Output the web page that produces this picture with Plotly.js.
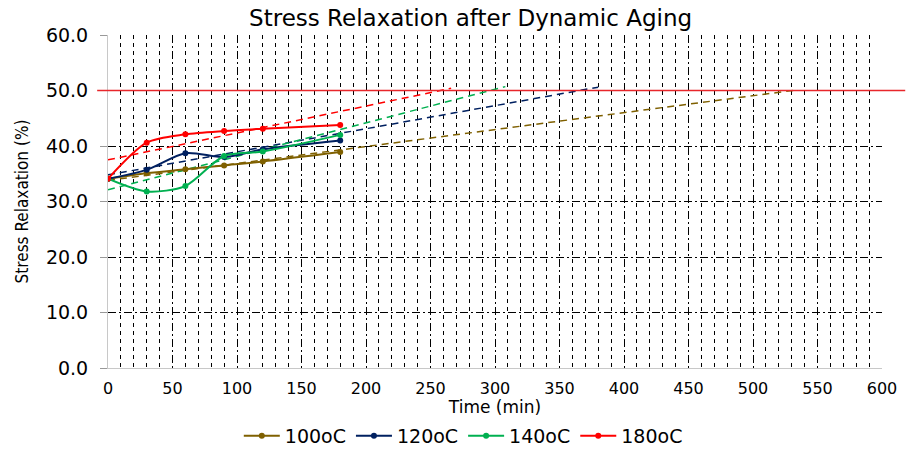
<!DOCTYPE html>
<html>
<head>
<meta charset="utf-8">
<script src="https://cdn.plot.ly/plotly-3.0.1.min.js"></script>
<style>
  html, body { margin: 0; padding: 0; background: #fff; }
  #chart { width: 912px; height: 455px; }
</style>
</head>
<body>
<div id="chart"></div>
<script>
// Aging time (min) at which stress relaxation was measured
const timeMin = [0, 30, 60, 90, 120, 180];

// Stress relaxation (%) per aging temperature
const seriesNames = ['100oC', '120oC', '140oC', '180oC'];
const relax100 = [34.1, 35.1, 35.8, 36.5, 37.2, 38.9];
const relax120 = [34.1, 35.7, 38.7, 38.0, 39.4, 41.0];
const relax140 = [34.1, 31.8, 32.8, 38.2, 39.0, 42.0];
const relax180 = [34.1, 40.6, 42.1, 42.7, 43.1, 43.8];
const seriesColors = ['#7F6000', '#002060', '#00B050', '#FF0000'];

// Linear trend lines: start/end time and value for each series
const trendX100 = [0, 534], trendY100 = [33.8, 50.1];
const trendX120 = [0, 380], trendY120 = [34.8, 50.6];
const trendX140 = [0, 308], trendY140 = [32.1, 50.7];
const trendX180 = [0, 266], trendY180 = [37.5, 50.4];

// Target relaxation level
const limitLevel = 50;

const dataSets = [relax100, relax120, relax140, relax180];
const trendXs = [trendX100, trendX120, trendX140, trendX180];
const trendYs = [trendY100, trendY120, trendY140, trendY180];

const traces = [];
// dashed trend lines first so measured curves sit on top
for (let i = 0; i < dataSets.length; i++) {
  traces.push({
    x: trendXs[i], y: trendYs[i], type: 'scatter', mode: 'lines',
    line: { color: seriesColors[i], width: 1.5, dash: '7px,5px' },
    showlegend: false, hoverinfo: 'skip'
  });
}
for (let i = 0; i < dataSets.length; i++) {
  traces.push({
    x: timeMin, y: dataSets[i], type: 'scatter', mode: 'lines+markers',
    name: seriesNames[i],
    line: { color: seriesColors[i], width: 2, shape: 'spline', smoothing: 0.8 },
    marker: { color: seriesColors[i], size: 6 }
  });
}

const fontMain = '"DejaVu Sans", Verdana, sans-serif';
const majorDash = '8px,3px,2px,3px';
const minorDash = '4px,4px';

const layout = {
  width: 912, height: 455,
  margin: { l: 108, r: 30, t: 35, b: 87 },
  paper_bgcolor: '#ffffff', plot_bgcolor: '#ffffff',
  title: {
    text: 'Stress Relaxation after Dynamic Aging',
    font: { family: fontMain, size: 23, color: '#000' },
    x: 0.516, xanchor: 'center', y: 0.96, yanchor: 'middle'
  },
  xaxis: {
    range: [0, 600], dtick: 50, tick0: 0, automargin: false,
    showline: true, linecolor: '#c8c8c8', linewidth: 1,
    ticks: '', zeroline: false, ticklabelstandoff: 6,
    showgrid: true, gridcolor: '#000', gridwidth: 1, griddash: majorDash,
    minor: { dtick: 10, showgrid: true, gridcolor: '#000', gridwidth: 1, griddash: minorDash },
    tickfont: { family: fontMain, size: 16, color: '#000' },
    title: { text: 'Time (min)', font: { family: fontMain, size: 17, color: '#000' }, standoff: 16 }
  },
  yaxis: {
    range: [0, 60], dtick: 10, tick0: 0, tickformat: '.1f', automargin: false,
    showline: true, linecolor: '#c8c8c8', linewidth: 1,
    ticks: 'outside', ticklen: 7, tickcolor: '#999', zeroline: false,
    ticklabelstandoff: 8,
    showgrid: true, gridcolor: '#000', gridwidth: 1, griddash: majorDash,
    tickfont: { family: fontMain, size: 19, color: '#000' },
    title: { text: 'Stress Relaxation (%)', font: { family: '"Liberation Sans Narrow", "DejaVu Sans Condensed", "Liberation Sans", sans-serif', size: 17, color: '#000' }, standoff: 12 }
  },
  legend: {
    orientation: 'h', xref: 'container', x: 0.508, xanchor: 'center',
    yref: 'container', y: 0.042, yanchor: 'middle',
    font: { family: fontMain, size: 19, color: '#000' },
    itemwidth: 36, tracegroupgap: 0
  },
  shapes: [{
    type: 'line', xref: 'paper', yref: 'y',
    x0: -0.014, x1: 1.03, y0: limitLevel, y1: limitLevel,
    line: { color: '#E8262B', width: 1.5 }
  }],
  showlegend: true
};

Plotly.newPlot('chart', traces, layout, { displayModeBar: false, staticPlot: true });
</script>
</body>
</html>
